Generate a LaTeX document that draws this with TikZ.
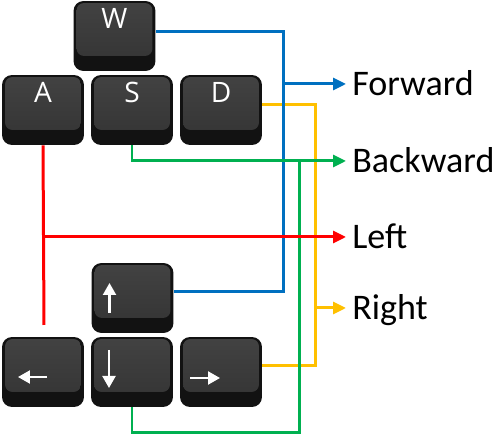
\documentclass[tikz,border=0pt]{standalone}
\usepackage{fontspec}
\setmainfont{Carlito}
\newfontfamily\keyfont{Open Sans}
\usetikzlibrary{arrows.meta}
\definecolor{fwdblue}{HTML}{0070C0}
\definecolor{bwdgreen}{HTML}{00B050}
\definecolor{lftred}{HTML}{FF0000}
\definecolor{rgtyellow}{HTML}{FFC000}
\tikzset{
	key/.style={rounded corners=0.2cm, fill=black!93, minimum width=1.64cm, minimum height=1.4cm,
		inner sep=0pt, text height=0.55cm, text depth=0.85cm, text=white,
		font=\keyfont\fontsize{16}{18}\selectfont,
		path picture={\shade[top color=black!74, bottom color=black!80, rounded corners=0.15cm]
			([shift={(0.06cm,-0.04cm)}]path picture bounding box.north west) rectangle
			([shift={(-0.06cm,0.3cm)}]path picture bounding box.south east);}},
	keyarr/.style={white, line width=0.045cm, -{Triangle[length=0.24cm,width=0.26cm]}},
	wire/.style={line width=0.06cm},
	tip/.style={-{Triangle[length=0.26cm,width=0.24cm]}},
	lbl/.style={anchor=west, inner xsep=0.12cm, inner ysep=0pt, text height=0.46cm, text depth=0pt,
		font=\fontsize{20.5}{24}\selectfont}
}
\begin{document}
\begin{tikzpicture}[x=0.02cm, y=-0.02cm]
		%%%%% START %%%%%
		\useasboundingbox (0, 0) rectangle (498, 435);
		
		% WASD keys
		\node[key] (w) at (114.5, 36) {W};
		\node[key] (a) at (43, 110) {A};
		\node[key] (s) at (132, 110) {S};
		\node[key] (d) at (221, 110) {D};
		
		% arrow keys
		\node[key] (uarr) at (132.5, 298) {};
		\node[key] (larr) at (43, 372) {};
		\node[key] (darr) at (132, 372) {};
		\node[key] (rarr) at (221, 372) {};
		\draw[keyarr] ([shift={(-23, 15)}]uarr.center) -- ++(0, -30);
		\draw[keyarr] ([shift={(-23, -22)}]darr.center) -- ++(0, 38);
		\draw[keyarr] ([shift={(4, 5)}]larr.center) -- ++(-29, 0);
		\draw[keyarr] ([shift={(-31, 6)}]rarr.center) -- ++(30, 0);
		
		% labels
		\node[lbl] (fwd) at (346, 84) {Forward};
		\node[lbl] (bwd) at (346, 161) {Backward};
		\node[lbl] (lft) at (346, 237) {Left};
		\node[lbl] (rgt) at (346, 308) {Right};
		
		\coordinate (bj) at (283, 84);
		\coordinate (gj) at (299, 161);
		\coordinate (gb) at (299, 433);
		\coordinate (rj) at (44, 237);
		\coordinate (rend) at (44, 325);
		\coordinate (yj) at (315.5, 308);
		
		% right
		\draw[wire, rgtyellow] ([shift={(0, -5)}]d.east) -| (yj) |- ([shift={(0, -6)}]rarr.east);
		\draw[wire, tip, rgtyellow] (yj) -- (rgt.west);
		
		% forward
		\draw[wire, fwdblue] ([shift={(0, -4)}]w.east) -| (bj) |- ([shift={(0, -6)}]uarr.east);
		\draw[wire, tip, fwdblue] (bj) -- (fwd.west);
		
		% backward
		\draw[wire, tip, bwdgreen] (s.south) |- (bwd.west);
		\draw[wire, bwdgreen] (gj) -- (gb) -| (darr.south);
		
		% left
		\draw[wire, lftred] (a.south) -- (rend);
		\draw[wire, tip, lftred] (rj) -- (lft.west);
		
		%%%%% END %%%%%
\end{tikzpicture}
\end{document}
